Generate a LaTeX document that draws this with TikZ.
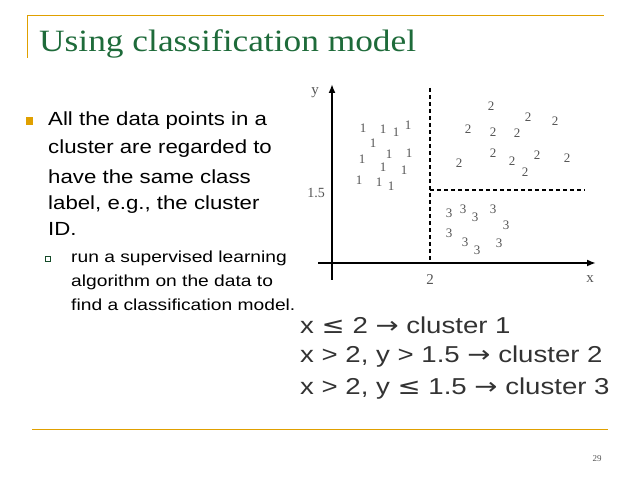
\documentclass[tikz,border=0pt]{standalone}
\usepackage{fontspec}
\usetikzlibrary{arrows.meta}
\setmainfont{Liberation Serif}
\newfontfamily\arial{Liberation Sans}
\newfontfamily\dv{DejaVu Sans}
\definecolor{gold}{HTML}{E0A000}
\definecolor{tgreen}{HTML}{1E6B3A}
\definecolor{dgray}{HTML}{333333}
\definecolor{pgray}{HTML}{555555}
\begin{document}
\begin{tikzpicture}[x=1pt,y=-1pt,
  dig/.style={font=\fontsize{13}{13}\selectfont, text=pgray, inner sep=0pt},
  lin/.style={anchor=west, inner sep=0pt, xscale=1.17, font=\arial\fontsize{19}{19}\selectfont},
  sub/.style={anchor=west, inner sep=0pt, xscale=1.2, font=\arial\fontsize{16}{16}\selectfont},
  rule/.style={anchor=west, inner sep=0pt, xscale=1.2, text=dgray, font=\arial\fontsize{23}{23}\selectfont},
  dsh/.style={line width=1.6pt, dash pattern=on 4pt off 3pt}]
\useasboundingbox (0,0) rectangle (638,478);
\fill[white] (0,0) rectangle (638,478);
% frame lines
\draw[gold, line width=1pt] (27,58) -- (27,16) -- (604,16);
\draw[gold, line width=1pt] (32,430) -- (608,430);
\node[anchor=west, inner sep=0pt, xscale=1.14, text=tgreen, font=\fontsize{31}{31}\selectfont] (title) at (39,44) {Using classification model};
% bullets
\fill[gold] (26,117) rectangle (33,125);
\node[lin] (l1) at (48,121) {All the data points in a};
\node[lin] (l2) at (48,149) {cluster are regarded to};
\node[lin] (l3) at (48,177) {have the same class};
\node[lin] (l4) at (48,205) {label, e.g., the cluster};
\node[lin] (l5) at (48,229) {ID.};
\draw[tgreen!70!black, line width=0.6pt] (45,256) rectangle (50,261);
\node[sub] (s1) at (71,258) {run a supervised learning};
\node[sub] (s2) at (71,282) {algorithm on the data to};
\node[sub] (s3) at (71,305) {find a classification model.};
% axes
\coordinate (yb) at (332,280); \coordinate (yt) at (332,84);
\coordinate (xl) at (318,263); \coordinate (xr) at (596,263);
\draw[line width=2pt, -{Latex[length=9pt,width=7pt]}] (yb) -- (yt);
\draw[line width=2pt, -{Latex[length=9pt,width=7pt]}] (xl) -- (xr);
\coordinate (dv1) at (430,88); \coordinate (dv2) at (430,263);
\coordinate (dh1) at (430,190); \coordinate (dh2) at (585,190);
\draw[dsh] (dv1) -- (dv2);
\draw[dsh] (dh1) -- (dh2);
\node[dig, font=\fontsize{15}{15}\selectfont] (ylab) at (315,93) {y};
\node[dig, font=\fontsize{15}{15}\selectfont] (xlab) at (590,279) {x};
\node[dig, font=\fontsize{14}{14}\selectfont] (l15) at (316,193) {1.5};
\node[dig, font=\fontsize{15}{15}\selectfont] (l2x) at (430,280) {2};
\foreach \x/\y [count=\i] in {363/128,383/129,396/132,408/125,373/143,362/159,389/154,409/153,383/167,404/170,359/180,379/182,391/186}
  \node[dig] (a\i) at (\x,\y) {1};
\foreach \x/\y [count=\i] in {491/106,528/117,555/121,468/129,493/132,517/133,493/153,512/161,537/155,567/158,459/163,525/172}
  \node[dig] (b\i) at (\x,\y) {2};
\foreach \x/\y [count=\i] in {449/213,463/209,475/217,493/209,506/225,449/233,465/242,477/250,499/243}
  \node[dig] (c\i) at (\x,\y) {3};
% rules
\node[rule] (r1) at (300,325) {x {\dv≤} 2 {\dv→} cluster 1};
\node[rule] (r2) at (300,357) {x > 2, y > 1.5 {\dv→} cluster 2};
\node[rule] (r3) at (300,389) {x > 2, y {\dv≤} 1.5 {\dv→} cluster 3};
\node[inner sep=0pt, text=pgray, font=\fontsize{9}{9}\selectfont] (pg) at (597,459) {29};
\end{tikzpicture}
\end{document}
